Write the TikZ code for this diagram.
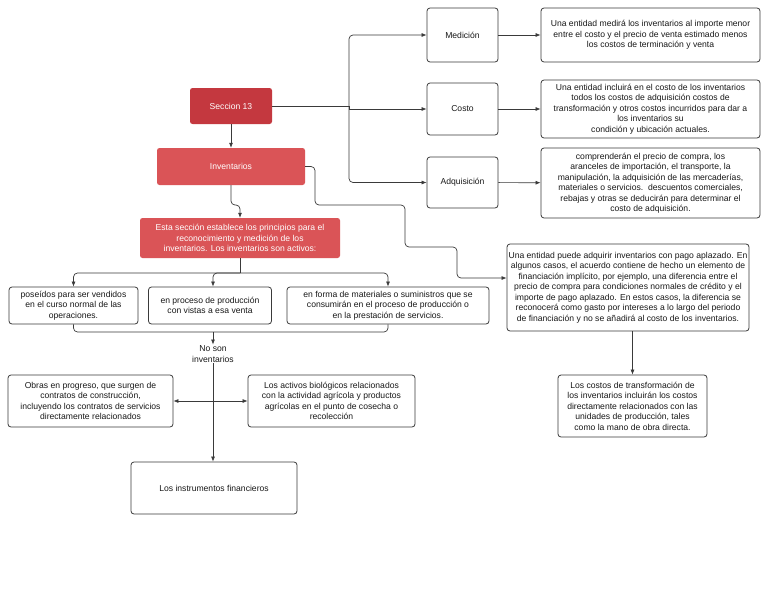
\documentclass[tikz,border=0pt]{standalone}
\usepackage{fontspec}
\setmainfont{Liberation Sans}
\usetikzlibrary{arrows.meta,calc}
\definecolor{dred}{HTML}{C4383F}
\definecolor{mred}{HTML}{DA5457}
\definecolor{ln}{HTML}{3A3A3A}
\begin{document}
\begin{tikzpicture}[x=1pt,y=-1pt,
  txt/.style={font=\fontsize{8.6}{10.5}\selectfont, align=center, inner sep=0pt, text=black!90},
  redbox/.style={txt, fill=#1, text=white, rounded corners=2.5pt},
  wbox/.style={txt, draw=ln, line width=0.8pt, rounded corners=3pt},
  arr/.style={draw=ln, line width=0.7pt, -{Latex[length=5pt,width=4pt]}},
  lin/.style={draw=ln, line width=0.7pt}
]
\useasboundingbox (0,0) rectangle (768,594);
\fill[white] (0,0) rectangle (768,594);

% red boxes
\node[redbox=dred, minimum width=82pt, minimum height=36pt] (sec) at (231,106) {Seccion 13};
\node[redbox=mred, minimum width=148pt, minimum height=37pt] (inv) at (231,166.5) {Inventarios};
\node[redbox=mred, minimum width=200pt, minimum height=40pt] (esta) at (240,238) {Esta sección establece los principios para el\\ reconocimiento y medición de los\\ inventarios. Los inventarios son activos:};

% right column
\node[wbox, minimum width=71pt, minimum height=54pt] (med) at (462.5,35) {Medición};
\node[wbox, minimum width=71pt, minimum height=52pt] (cos) at (462.5,109) {Costo};
\node[wbox, minimum width=71pt, minimum height=51pt] (adq) at (462.5,182.5) {Adquisición};

\node[wbox, minimum width=219pt, minimum height=54pt] (medd) at (650.5,35) {Una entidad medirá los inventarios al importe menor\\ entre el costo y el precio de venta estimado menos\\ los costos de terminación y venta};
\node[wbox, minimum width=219pt, minimum height=58pt] (cosd) at (650.5,109) {Una entidad incluirá en el costo de los inventarios\\ todos los costos de adquisición costos de\\ transformación y otros costos incurridos para dar a\\ los inventarios su\\ condición y ubicación actuales.};
\node[wbox, minimum width=219pt, minimum height=70pt] (adqd) at (650.5,183) {comprenderán el precio de compra, los\\ aranceles de importación, el transporte, la\\ manipulación, la adquisición de las mercaderías,\\ materiales o servicios.\ \ descuentos comerciales,\\ rebajas y otras se deducirán para determinar el\\ costo de adquisición.};

\node[wbox, minimum width=242pt, minimum height=87pt] (plazo) at (628,287.5) {Una entidad puede adquirir inventarios con pago aplazado. En\\ algunos casos, el acuerdo contiene de hecho un elemento de\\ financiación implícito, por ejemplo, una diferencia entre el\\ precio de compra para condiciones normales de crédito y el\\ importe de pago aplazado. En estos casos, la diferencia se\\ reconocerá como gasto por intereses a lo largo del periodo\\ de financiación y no se añadirá al costo de los inventarios.};
\node[wbox, minimum width=149pt, minimum height=62pt] (transf) at (632.5,406) {Los costos de transformación de\\ los inventarios incluirán los costos\\ directamente relacionados con las\\ unidades de producción, tales\\ como la mano de obra directa.};

% activos
\node[wbox, minimum width=129pt, minimum height=37pt] (p1) at (73.5,305.5) {poseídos para ser vendidos\\ en el curso normal de las\\ operaciones.};
\node[wbox, minimum width=123pt, minimum height=37pt] (p2) at (210,305.5) {en proceso de producción\\ con vistas a esa venta};
\node[wbox, minimum width=202pt, minimum height=37pt] (p3) at (388,305.5) {en forma de materiales o suministros que se\\ consumirán en el proceso de producción o\\ en la prestación de servicios.};

\node[txt, inner sep=1pt] (nson) at (213,354) {No son\\ inventarios};

\node[wbox, minimum width=165pt, minimum height=52pt] (obras) at (90.5,401) {Obras en progreso, que surgen de\\ contratos de construcción,\\ incluyendo los contratos de servicios\\ directamente relacionados};
\node[wbox, minimum width=167pt, minimum height=52pt] (bio) at (331.5,401) {Los activos biológicos relacionados\\ con la actividad agrícola y productos\\ agrícolas en el punto de cosecha o\\ recolección};
\node[wbox, minimum width=166pt, minimum height=52pt] (instr) at (214,488) {Los instrumentos financieros};

% junction coordinates
\coordinate (j1) at (349,106);
\coordinate (j2a) at (315,166.5);
\coordinate (j2b) at (405,205);
\coordinate (j2c) at (457,247);
\coordinate (j3) at (231,205);
\coordinate (b1) at (240,273);
\coordinate (b2) at (213,332);
\coordinate (b3) at (213,401);
\coordinate (pin) at ([yshift=9.5pt]plazo.west);

% connectors
\draw[arr] (sec) -- (inv);
\draw[lin] (sec.east) -- (j1);
\draw[arr, rounded corners=4pt] (j1) |- (med.west);
\draw[arr] (j1) |- (cos.west);
\draw[arr, rounded corners=4pt] (j1) |- (adq.west);
\draw[arr] (med) -- (medd);
\draw[arr] (cos) -- (cosd);
\draw[arr] (adq) -- (adqd);

\draw[arr, rounded corners=4pt] (inv.east) -- (j2a) |- (j2b) |- (j2c) |- (pin);
\draw[arr] (plazo.south -| transf.north) -- (transf.north);

\draw[arr, rounded corners=4pt] (inv.south) -- (j3) -| (esta.north);

\draw[lin] (esta.south) -- (b1);
\draw[arr, rounded corners=4pt] (b1) -| (p1.north);
\draw[arr, rounded corners=4pt] (b1) -| (p3.north);
\draw[arr, rounded corners=4pt] (b1) -| (p2.north -| b2);

\draw[lin, rounded corners=4pt] (p1.south) |- (b2) -| (p3.south);
\draw[arr] (b2) -- (nson.north -| b2);
\draw[lin] (nson.south -| b3) -- (b3);
\draw[arr] (b3) -- (obras.east);
\draw[arr] (b3) -- (bio.west);
\draw[arr] (b3) -- (instr.north -| b3);
\end{tikzpicture}
\end{document}
